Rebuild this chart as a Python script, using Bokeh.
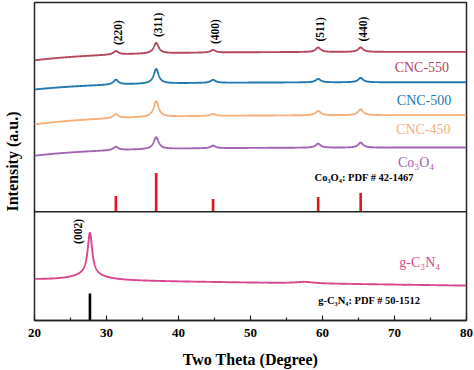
import numpy as np
from bokeh.plotting import figure
from bokeh.models import Span, Label, FixedTicker
from bokeh.embed import file_html
from bokeh.resources import INLINE
from bokeh.core.properties import value

# ---------------- data ----------------
x_ticks = [20, 30, 40, 50, 60, 70, 80]
x_minor_ticks = [25, 35, 45, 55, 65, 75]

# Co3O4 reflections (2θ, degree) and Miller indices
co3o4_pos = [31.3, 36.9, 44.8, 59.4, 65.3]
co3o4_hkl = ["(220)", "(311)", "(400)", "(511)", "(440)"]
co3o4_pdf_height = [16, 39, 13, 15, 19]          # PDF # 42-1467 stick heights (a.u.)

# g-C3N4 reflection
gcn_pos = [27.7]
gcn_hkl = ["(002)"]
gcn_pdf_height = [27]                             # PDF # 50-1512 stick height (a.u.)

# stacked Co3O4-type patterns: flat level, low-angle rise, peak heights (a.u.)
series_names = ["CNC-550", "CNC-500", "CNC-450", "Co₃O₄"]
series_level = [269.5, 239.0, 206.0, 173.5]
series_rise = [8.5, 7.3, 9.3, 8.2]
cnc550_peaks = [3.5, 10.5, 2.5, 4.5, 4.5]
cnc500_peaks = [4.8, 14.6, 3.0, 3.5, 4.5]
cnc450_peaks = [4.0, 15.8, 2.0, 4.5, 6.0]
co3o4_peaks = [3.4, 11.8, 2.5, 4.0, 5.0]
series_peaks = [cnc550_peaks, cnc500_peaks, cnc450_peaks, co3o4_peaks]

# g-C3N4 pattern
gcn_level_start, gcn_level_end = 41.0, 35.0       # at 20° and 80°
gcn_hump_height = 6.0                             # broad amorphous hump at the (002) position
gcn_peak_height = 41.8                            # sharp (002) peak
gcn_bump_pos, gcn_bump_height = 57.5, 1.5

separator_level = 109.0

# ---------------- style ----------------
series_colors = ["#b5475b", "#2179b0", "#f6b07c", "#a263b3"]
gcn_color = "#d9468f"
stick_red = "#e2151f"
FONT = "Liberation Serif"

x = np.linspace(20, 80, 3001)


def lor(xx, pos, h, w):
    return h / (1.0 + ((xx - pos) / w) ** 2)


p = figure(width=474, height=370, x_range=(20, 80), y_range=(0, 319),
           output_backend="svg", toolbar_location=None, title=None,
           min_border_left=34, min_border_right=8, min_border_top=2,
           min_border_bottom=49)

p.xgrid.visible = False
p.ygrid.visible = False
p.outline_line_color = "#222222"
p.outline_line_width = 1.5
p.outline_line_alpha = 1.0
p.background_fill_color = "white"
p.border_fill_color = "white"

# x axis
xa = p.xaxis[0]
xa.ticker = FixedTicker(ticks=x_ticks, minor_ticks=x_minor_ticks)
xa.axis_line_color = "#222222"
xa.axis_line_width = 1.5
xa.major_tick_in = 5
xa.major_tick_out = 0
xa.minor_tick_in = 3
xa.minor_tick_out = 0
xa.major_tick_line_color = "#222222"
xa.minor_tick_line_color = "#222222"
xa.major_tick_line_width = 1.2
xa.minor_tick_line_width = 1.2
xa.major_label_text_font = FONT
xa.major_label_text_font_style = "bold"
xa.major_label_text_font_size = "13px"
xa.major_label_text_color = "black"
xa.major_label_standoff = 8
xa.axis_label = "Two Theta (Degree)"
xa.axis_label_text_font = FONT
xa.axis_label_text_font_style = "bold"
xa.axis_label_text_font_size = "16px"
xa.axis_label_text_color = "black"
xa.axis_label_standoff = 11

# y axis: label only, no ticks
ya = p.yaxis[0]
ya.ticker = FixedTicker(ticks=[], minor_ticks=[])
ya.axis_label = "Intensity (a.u.)"
ya.axis_label_text_font = FONT
ya.axis_label_text_font_style = "bold"
ya.axis_label_text_font_size = "16px"
ya.axis_label_text_color = "black"
ya.axis_label_standoff = 14
ya.major_label_standoff = 0
ya.major_tick_line_color = None
ya.minor_tick_line_color = None
ya.major_tick_out = 0
ya.minor_tick_out = 0
ya.axis_line_color = None

# separator between the two panels
p.add_layout(Span(location=separator_level, dimension="width",
                  line_color="#222222", line_width=1.5))

# stacked Co3O4-type patterns
top_peaks = None
for name, lvl, rise, pk, col in zip(series_names, series_level, series_rise,
                                     series_peaks, series_colors):
    y = lvl - rise * np.exp(-(x - 20) / 10.0)
    for pos, h in zip(co3o4_pos, pk):
        y = y + lor(x, pos, h, 0.42)
    p.line(x, y, line_color=col, line_width=1.9)
    if top_peaks is None:
        top_peaks = [lvl - rise * np.exp(-(pos - 20) / 10.0) + h
                     for pos, h in zip(co3o4_pos, pk)]

# g-C3N4 pattern
yg = gcn_level_start + (gcn_level_end - gcn_level_start) * (x - 20) / 60.0
yg = yg + lor(x, gcn_pos[0] - 0.2, gcn_hump_height, 2.5)
yg = yg + lor(x, gcn_pos[0], gcn_peak_height, 0.38)
yg = yg + lor(x, gcn_bump_pos, gcn_bump_height, 1.5)
p.line(x, yg, line_color=gcn_color, line_width=1.9)

# reference sticks
p.segment(x0=co3o4_pos, y0=[separator_level] * len(co3o4_pos), x1=co3o4_pos,
          y1=[separator_level + h for h in co3o4_pdf_height],
          line_color=stick_red, line_width=2.6)
p.segment(x0=gcn_pos, y0=[0] * len(gcn_pos), x1=gcn_pos,
          y1=gcn_pdf_height, line_color="black", line_width=2.6)

# Miller indices
p.text(x=co3o4_pos, y=[t + 6 for t in top_peaks], text=co3o4_hkl,
       angle=np.pi / 2, x_offset=2, text_align="left", text_baseline="middle",
       text_font=value(FONT), text_font_style="bold", text_font_size="11.5px",
       text_color="black")
gcn_top = gcn_level_start + gcn_hump_height + gcn_peak_height
p.text(x=[gcn_pos[0] - 1.6], y=[gcn_top - 12], text=gcn_hkl,
       angle=np.pi / 2, text_align="left", text_baseline="middle",
       text_font=value(FONT), text_font_style="bold", text_font_size="11.5px",
       text_color="black")

# series labels
label_xy = [(73.8, 254), (74.1, 221), (74.0, 192), (73.0, 158)]
for name, col, (lx, ly) in zip(series_names, series_colors, label_xy):
    p.add_layout(Label(x=lx, y=ly, text=name, text_align="center",
                       text_baseline="middle", text_font=FONT,
                       text_font_size="14px", text_color=col))
p.add_layout(Label(x=73.5, y=58, text="g-C₃N₄", text_align="center",
                   text_baseline="middle", text_font=FONT,
                   text_font_size="14px", text_color=gcn_color))
p.add_layout(Label(x=65.8, y=143, text="Co₃O₄: PDF # 42-1467", text_align="center",
                   text_baseline="middle", text_font=FONT, text_font_style="bold",
                   text_font_size="10.5px", text_color="black"))
p.add_layout(Label(x=66.5, y=20, text="g-C₃N₄: PDF # 50-1512", text_align="center",
                   text_baseline="middle", text_font=FONT, text_font_style="bold",
                   text_font_size="10.5px", text_color="black"))

open("out.html", "w").write(file_html(p, INLINE))
